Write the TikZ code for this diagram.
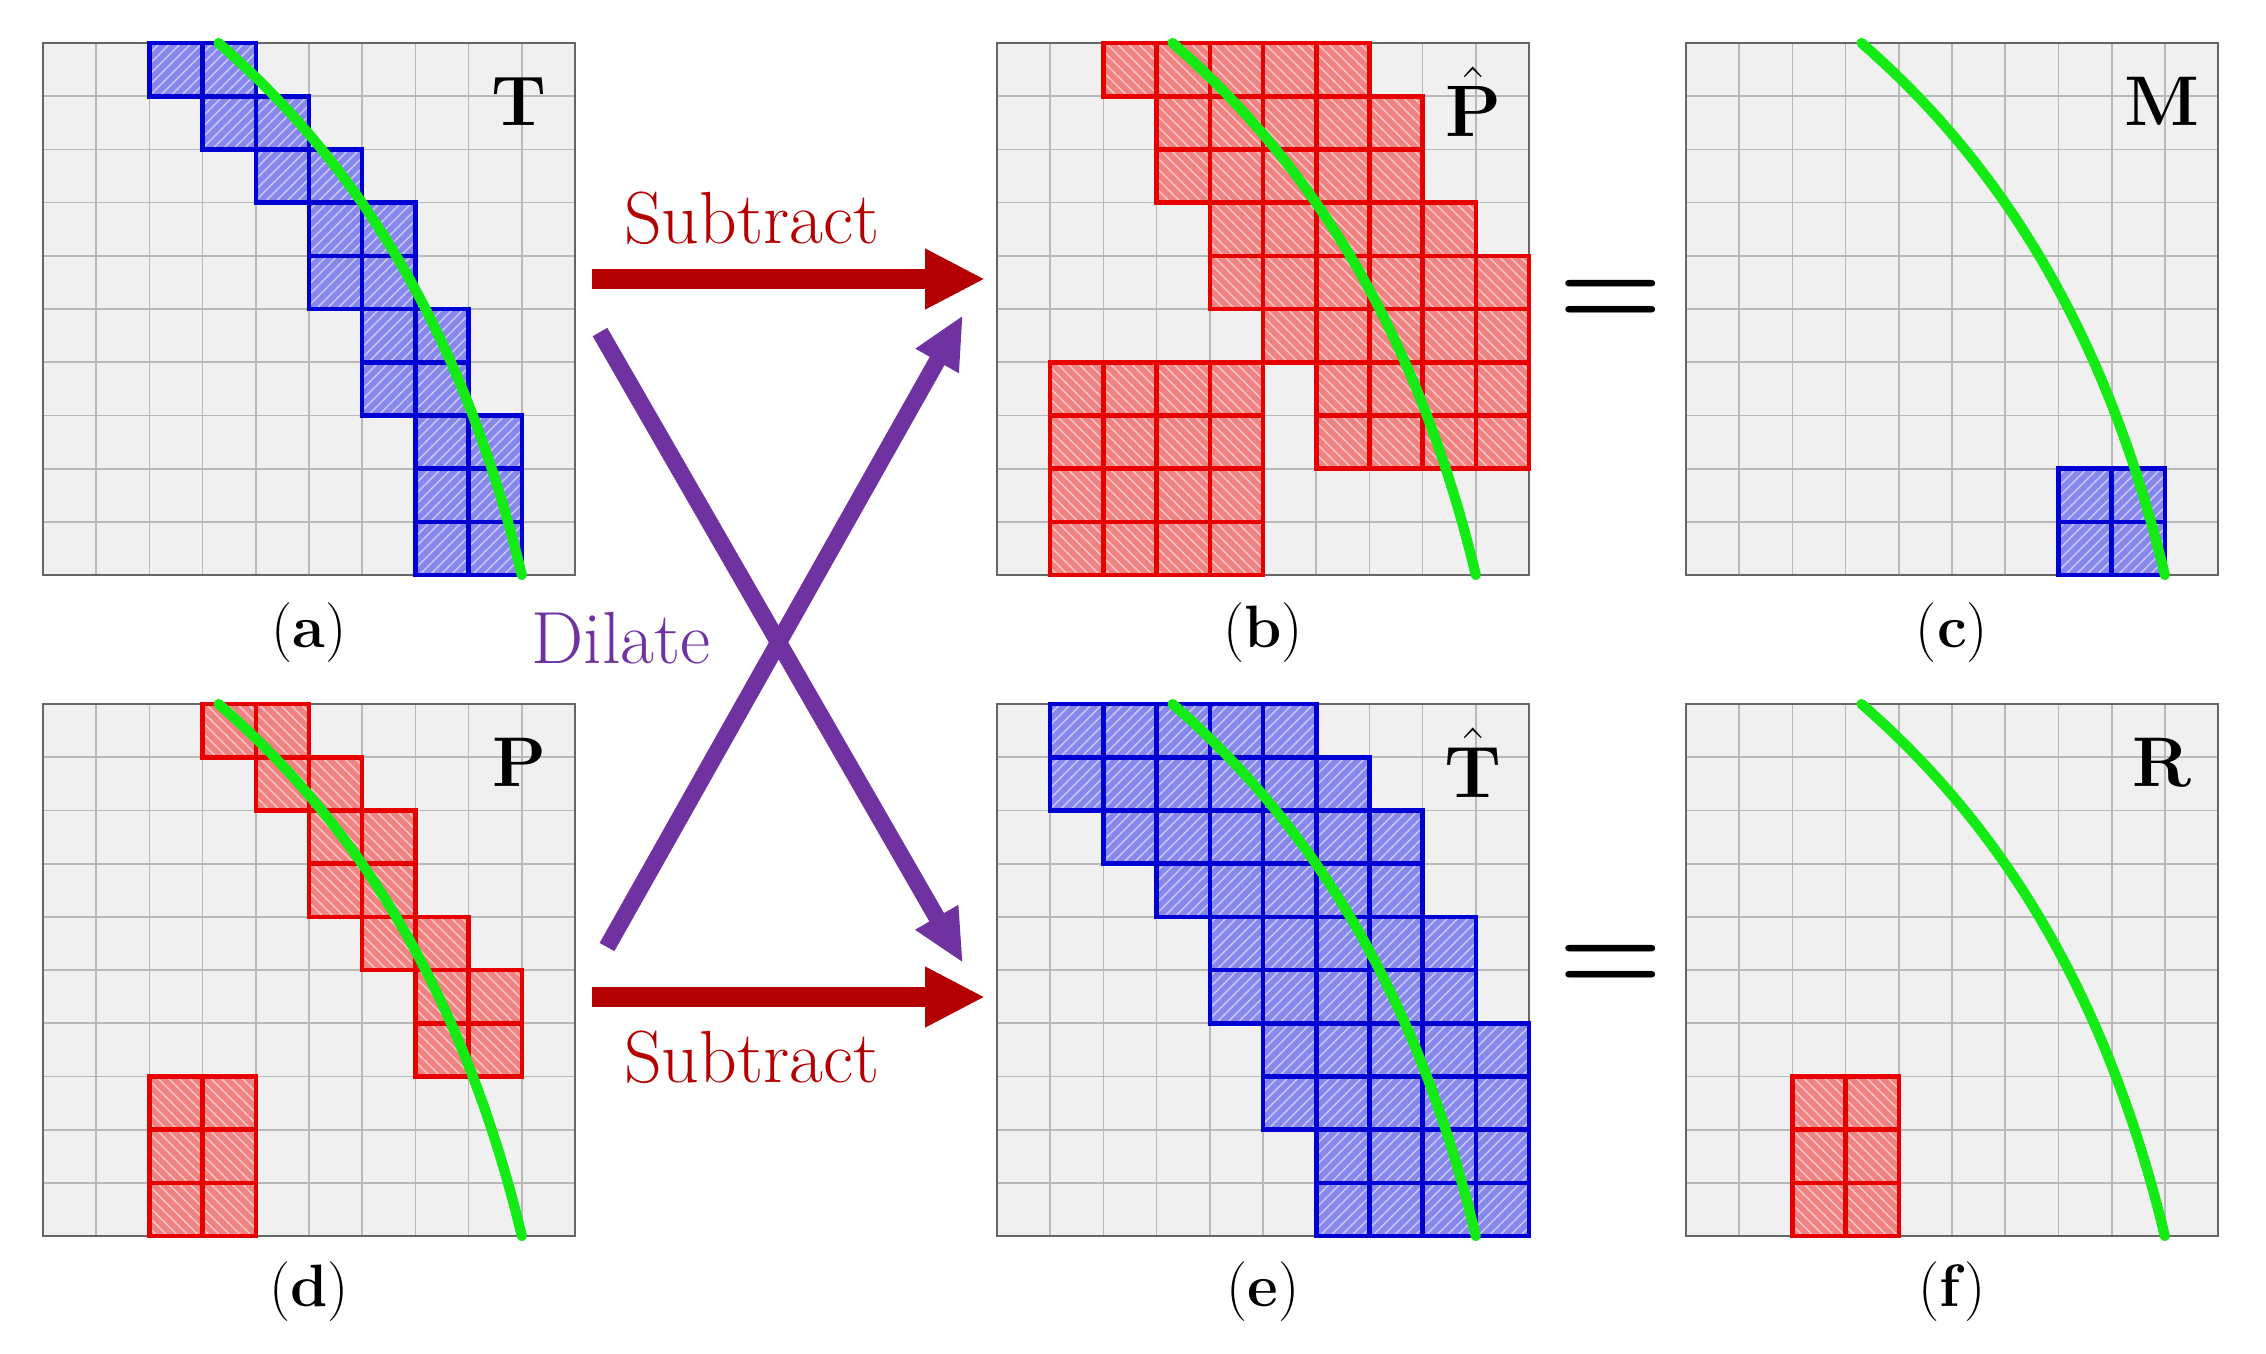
\documentclass[tikz,border=0pt]{standalone}
\usetikzlibrary{patterns,arrows.meta}
\definecolor{bluefill}{RGB}{135,135,238}
\definecolor{redfill}{RGB}{240,130,130}
\definecolor{darkred}{RGB}{180,0,0}
\definecolor{dilpurple}{RGB}{112,50,160}
\definecolor{curvegreen}{RGB}{20,235,20}
\tikzset{
 gridbg/.style={fill=gray!12},
 gridln/.style={draw=gray!55,line width=0.5pt},
 gridbd/.style={draw=gray!80!black,line width=0.8pt},
 bcell/.style={draw={rgb,255:red,0;green,0;blue,210},line width=1.3pt,preaction={fill=bluefill},pattern=north east lines,pattern color=white!55!bluefill},
 rcell/.style={draw={rgb,255:red,230;green,0;blue,0},line width=1.3pt,preaction={fill=redfill},pattern=north west lines,pattern color=white!55!redfill},
 curve/.style={draw=curvegreen,line width=2.9pt,line cap=round},
 plabel/.style={font=\fontsize{20}{24}\selectfont\bfseries},
 caption/.style={font=\fontsize{17}{20}\selectfont},
 redarrow/.style={draw=darkred,line width=5.7pt,-{Triangle[length=17pt,width=16pt]}},
 purparrow/.style={draw=dilpurple,line width=4.8pt,-{Triangle[length=15pt,width=13pt]}},
 optext/.style={font=\fontsize{21}{25}\selectfont},
 eqsign/.style={font=\fontsize{34}{36}\selectfont\bfseries}
}
\newcommand\mypanel[2]{%
 \fill[gridbg] (#1,#2) rectangle ++(532,532);
 \foreach \i in {1,...,9} {\draw[gridln] ({#1+\i*53.2},#2) -- ++(0,532); \draw[gridln] (#1,{#2+\i*53.2}) -- ++(532,0);}
 \draw[gridbd] (#1,#2) rectangle ++(532,532);}
\newcommand\mycells[4]{%
 \foreach \r/\a/\b in {#4} {\foreach \c in {\a,...,\b} {\draw[#3] ({#1+\c*53.2},{#2+\r*53.2}) rectangle ++(53.2,53.2);}}}
\newcommand\mycurve[2]{%
 \draw[curve] ({#1+3.3*53.2},#2) .. controls ({#1+5.6*53.2},{#2+2.0*53.2}) and ({#1+7.8*53.2},{#2+5*53.2}) .. ({#1+9*53.2},{#2+10*53.2});}
\begin{document}
\begin{tikzpicture}[x=0.01cm,y=-0.01cm]
\useasboundingbox[fill=white] (0,0) rectangle (2266,1353);
% (a) T
\mypanel{43}{43}
\mycells{43}{43}{bcell}{0/2/3,1/3/4,2/4/5,3/5/6,4/5/6,5/6/7,6/6/7,7/7/8,8/7/8,9/7/8}
\mycurve{43}{43}
\node[plabel] (lT) at ({43+8.95*53.2},{43+1.1*53.2}) {T};
\node[caption] (ca) at (309,633) {(\textbf{a})};
% (b) P hat
\mypanel{997}{43}
\mycells{997}{43}{rcell}{0/2/6,1/3/7,2/3/7,3/4/8,4/4/9,5/5/9,6/1/4,6/6/9,7/1/4,7/6/9,8/1/4,9/1/4}
\mycurve{997}{43}
\node[plabel] (lPh) at ({997+8.95*53.2},{43+1.1*53.2}) {$\hat{\mathbf{P}}$};
\node[caption] (cb) at (1263,633) {(\textbf{b})};
% (c) M
\mypanel{1686}{43}
\mycells{1686}{43}{bcell}{8/7/8,9/7/8}
\mycurve{1686}{43}
\node[plabel] (lM) at ({1686+8.95*53.2},{43+1.1*53.2}) {M};
\node[caption] (cc) at (1952,633) {(\textbf{c})};
% (d) P
\mypanel{43}{704}
\mycells{43}{704}{rcell}{0/3/4,1/4/5,2/5/6,3/5/6,4/6/7,5/7/8,6/7/8,7/2/3,8/2/3,9/2/3}
\mycurve{43}{704}
\node[plabel] (lP) at ({43+8.95*53.2},{704+1.1*53.2}) {P};
\node[caption] (cd) at (309,1292) {(\textbf{d})};
% (e) T hat
\mypanel{997}{704}
\mycells{997}{704}{bcell}{0/1/5,1/1/6,2/2/7,3/3/7,4/4/8,5/4/8,6/5/9,7/5/9,8/6/9,9/6/9}
\mycurve{997}{704}
\node[plabel] (lTh) at ({997+8.95*53.2},{704+1.1*53.2}) {$\hat{\mathbf{T}}$};
\node[caption] (ce) at (1263,1292) {(\textbf{e})};
% (f) R
\mypanel{1686}{704}
\mycells{1686}{704}{rcell}{7/2/3,8/2/3,9/2/3}
\mycurve{1686}{704}
\node[plabel] (lR) at ({1686+8.95*53.2},{704+1.1*53.2}) {R};
\node[caption] (cf) at (1952,1292) {(\textbf{f})};
% arrows
\coordinate (s1a) at (592,279); \coordinate (s1b) at (985,279);
\coordinate (s2a) at (592,997); \coordinate (s2b) at (985,997);
\coordinate (d1a) at (607,947); \coordinate (d1b) at (963,315);
\coordinate (d2a) at (600,332); \coordinate (d2b) at (963,963);
\draw[purparrow] (d1a) -- (d1b);
\draw[purparrow] (d2a) -- (d2b);
\draw[redarrow] (s1a) -- (s1b);
\draw[redarrow] (s2a) -- (s2b);
\node[optext,text=darkred] (sub1) at (752,218) {Subtract};
\node[optext,text=darkred] (sub2) at (752,1057) {Subtract};
\node[optext,text=dilpurple] (dil) at (621,638) {Dilate};
\node[eqsign] (eq1) at (1611,303) {=};
\node[eqsign] (eq2) at (1611,968) {=};
\end{tikzpicture}
\end{document}
